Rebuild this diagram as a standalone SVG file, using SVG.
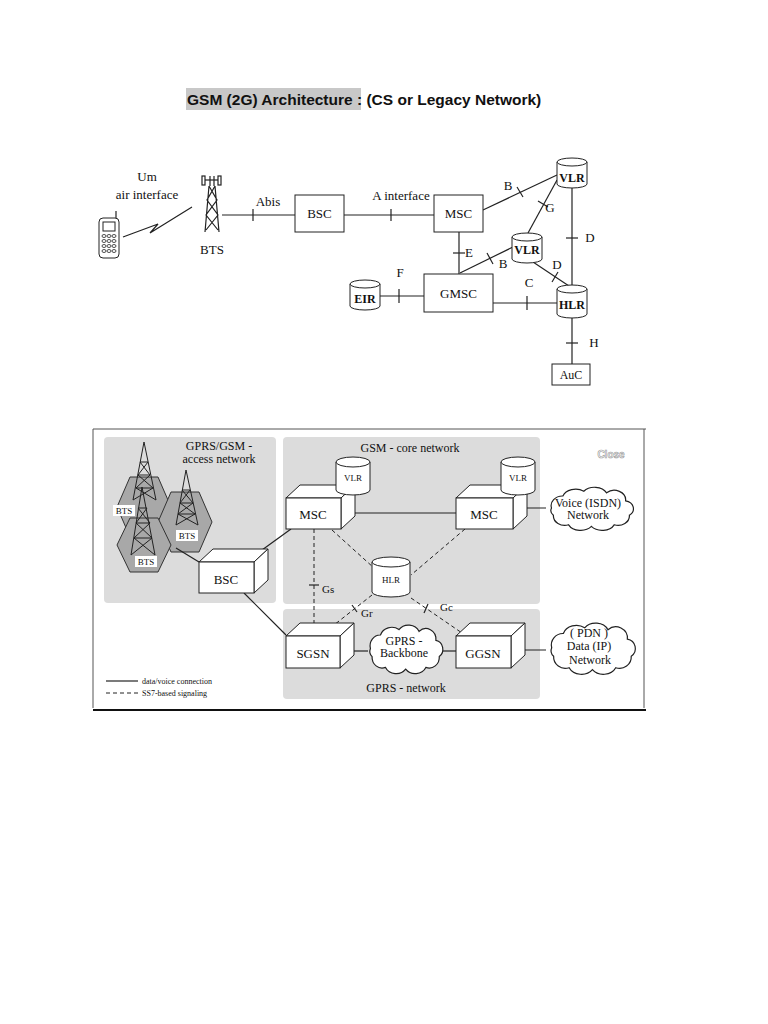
<svg xmlns="http://www.w3.org/2000/svg" xmlns:xlink="http://www.w3.org/1999/xlink" width="768" height="1024" viewBox="0 0 768 1024">
<style>
.t{font-family:"Liberation Serif",serif;fill:#111}
.l{stroke:#222;stroke-width:1.2;fill:none}
.d{stroke:#222;stroke-width:1;fill:none;stroke-dasharray:4,3}
.box{fill:#fff;stroke:#222;stroke-width:1}
.pan{fill:#dcdcdc}
.cl{fill:#fff;stroke:#222;stroke-width:1.2}
</style>
<defs>
<path id="cloud" d="M10,25 a12,12 0 0 1 12,-15 a14,12 0 0 1 22,-6 a14,12 0 0 1 24,2 a12,12 0 0 1 20,10 a10,10 0 0 1 4,18 a12,12 0 0 1 -16,12 a14,12 0 0 1 -24,2 a14,12 0 0 1 -24,-2 a12,12 0 0 1 -16,-12 a8,8 0 0 1 -2,-9 Z" vector-effect="non-scaling-stroke"/>
</defs>
<rect width="768" height="1024" fill="#fff"/>
<rect x="186" y="88" width="175" height="22" fill="#c8c8c8"/>
<text x="187" y="105" font-family="Liberation Sans,sans-serif" font-weight="bold" font-size="15.5" fill="#111">GSM (2G) Architecture : (CS or Legacy Network)</text>

<g id="top-connectors">
<path class="l" d="M123,237 L158,224 L150,233 L192,207"/>
<line class="l" x1="222" y1="215" x2="295" y2="215"/><line class="l" x1="253" y1="209" x2="253" y2="221"/>
<line class="l" x1="344" y1="215" x2="434" y2="215"/><line class="l" x1="391" y1="209" x2="391" y2="221"/>
<line class="l" x1="483" y1="210" x2="557" y2="175"/><line class="l" x1="517" y1="187" x2="523" y2="197"/>
<line class="l" x1="557" y1="180" x2="528" y2="233"/><line class="l" x1="538" y1="201" x2="548" y2="207"/>
<line class="l" x1="572" y1="188" x2="572" y2="287"/><line class="l" x1="566" y1="238" x2="578" y2="238"/>
<line class="l" x1="459" y1="232" x2="459" y2="274"/><line class="l" x1="453" y1="253" x2="465" y2="253"/>
<line class="l" x1="460" y1="273" x2="513" y2="247"/><line class="l" x1="487" y1="253" x2="493" y2="264"/>
<line class="l" x1="380" y1="296" x2="424" y2="296"/><line class="l" x1="399" y1="289" x2="399" y2="303"/>
<line class="l" x1="493" y1="303" x2="557" y2="303"/><line class="l" x1="527" y1="296" x2="527" y2="310"/>
<line class="l" x1="530" y1="260" x2="572" y2="288"/><line class="l" x1="558" y1="272" x2="552" y2="282"/>
<line class="l" x1="572" y1="318" x2="572" y2="364"/><line class="l" x1="566" y1="343" x2="578" y2="343"/>
</g>
<g class="t" font-size="13" text-anchor="middle">
<text x="147" y="181">Um</text><text x="147" y="199">air interface</text>
<text x="212" y="254">BTS</text>
<text x="268" y="206">Abis</text>
<text x="401" y="200">A interface</text>
<text x="508" y="190">B</text><text x="550" y="212">G</text><text x="590" y="242">D</text>
<text x="469" y="257">E</text><text x="503" y="268">B</text><text x="557" y="269">D</text>
<text x="400" y="277">F</text><text x="529" y="287">C</text><text x="594" y="347">H</text>
</g>

<g id="phone">
<rect x="99" y="218" width="20" height="40" rx="4" class="box" stroke-width="1.2"/>
<line class="l" x1="116" y1="211" x2="116" y2="218" stroke-width="2"/>
<rect x="103" y="222" width="12" height="9" class="box"/>
<g fill="none" stroke="#222" stroke-width="0.8">
<ellipse cx="104" cy="236" rx="2" ry="1.5"/><ellipse cx="109" cy="236" rx="2" ry="1.5"/><ellipse cx="114" cy="236" rx="2" ry="1.5"/>
<ellipse cx="104" cy="241" rx="2" ry="1.5"/><ellipse cx="109" cy="241" rx="2" ry="1.5"/><ellipse cx="114" cy="241" rx="2" ry="1.5"/>
<ellipse cx="104" cy="246" rx="2" ry="1.5"/><ellipse cx="109" cy="246" rx="2" ry="1.5"/><ellipse cx="114" cy="246" rx="2" ry="1.5"/>
<ellipse cx="104" cy="251" rx="2" ry="1.5"/><ellipse cx="109" cy="251" rx="2" ry="1.5"/><ellipse cx="114" cy="251" rx="2" ry="1.5"/>
</g>
</g>
<g id="bts" fill="none" stroke="#222" stroke-width="1.2">
<rect x="202" y="176" width="3" height="9"/><rect x="218" y="176" width="3" height="9"/>
<line x1="205" y1="180" x2="218" y2="180"/>
<line x1="210" y1="176" x2="210" y2="186"/><line x1="214" y1="176" x2="214" y2="186"/>
<path d="M209,186 L205,232 M215,186 L219,232 M209,186 L217,200 L206,215 L218,230 M215,186 L207,200 L218,215 L206,230"/>
</g>
<g id="bsc"><rect x="295" y="195" width="49" height="37" class="box"/><text class="t" x="319.5" y="218" font-size="13" text-anchor="middle">BSC</text></g>
<g id="msc"><rect x="434" y="195" width="49" height="37" class="box"/><text class="t" x="458.5" y="218" font-size="13" text-anchor="middle">MSC</text></g>
<g id="gmsc"><rect x="424" y="274" width="69" height="38" class="box"/><text class="t" x="458.5" y="298" font-size="13" text-anchor="middle">GMSC</text></g>
<g id="auc"><rect x="552" y="364" width="38" height="21" class="box"/><text class="t" x="571" y="379" font-size="12" text-anchor="middle">AuC</text></g>
<g id="vlr1"><path class="box" stroke-width="1.2" d="M557,162 v22 a15,4 0 0 0 30,0 v-22"/><ellipse class="box" stroke-width="1.2" cx="572" cy="162" rx="15" ry="4"/><text class="t" x="572" y="182" font-size="12" font-weight="bold" text-anchor="middle">VLR</text></g>
<g id="vlr2"><path class="box" stroke-width="1.2" d="M512,237 v22 a15,4 0 0 0 30,0 v-22"/><ellipse class="box" stroke-width="1.2" cx="527" cy="237" rx="15" ry="4"/><text class="t" x="527" y="254" font-size="12" font-weight="bold" text-anchor="middle">VLR</text></g>
<g id="hlr"><path class="box" stroke-width="1.2" d="M557,289 v25 a15,4 0 0 0 30,0 v-25"/><ellipse class="box" stroke-width="1.2" cx="572" cy="289" rx="15" ry="4"/><text class="t" x="572" y="309" font-size="12" font-weight="bold" text-anchor="middle">HLR</text></g>
<g id="eir"><path class="box" stroke-width="1.2" d="M350,284 v22 a15,4 0 0 0 30,0 v-22"/><ellipse class="box" stroke-width="1.2" cx="365" cy="284" rx="15" ry="4"/><text class="t" x="365" y="303" font-size="12" font-weight="bold" text-anchor="middle">EIR</text></g>

<line x1="93" y1="429" x2="646" y2="429" stroke="#555" stroke-width="1"/>
<line x1="93" y1="429" x2="93" y2="708" stroke="#555" stroke-width="1"/>
<line x1="644" y1="429" x2="644" y2="708" stroke="#555" stroke-width="1"/>
<line x1="93" y1="710" x2="646" y2="710" stroke="#111" stroke-width="2"/>
<rect class="pan" x="104" y="437" width="172" height="166" rx="4"/>
<rect class="pan" x="283" y="437" width="257" height="167" rx="4"/>
<rect class="pan" x="283" y="609" width="257" height="90" rx="4"/>
<g class="t" font-size="12" text-anchor="middle">
<text x="219" y="450">GPRS/GSM -</text><text x="219" y="463">access network</text>
<text x="410" y="452">GSM - core network</text>
<text x="406" y="692">GPRS - network</text>
</g>
<text x="611" y="458" font-family="Liberation Sans,sans-serif" font-size="10" font-weight="bold" fill="#fff" stroke="#999" stroke-width="0.6" text-anchor="middle">Close</text>

<g id="hexes" fill="#a8a8a8" stroke="#333" stroke-width="1">
<polygon points="117,507 130,477 158,477 171,507 158,537 130,537"/>
<polygon points="158,522 171,492 199,492 212,522 199,552 171,552"/>
<polygon points="117,545 130,518 158,518 171,545 158,572 130,572"/>
</g>
<g id="towers" fill="none" stroke="#222" stroke-width="1">
<path d="M144,442 L133,500 M144,442 L156,500 M140,462 L148,462 M138,475 L150,475 M136,488 L153,488 M140,462 L150,475 L136,488 L156,500 M148,462 L138,475 L153,488 L133,500"/>
<path d="M186,470 L176,525 M186,470 L198,525 M182,490 L190,490 M180,503 L193,503 M178,514 L195,514 M182,490 L193,503 L178,514 L198,525 M190,490 L180,503 L195,514 L176,525"/>
<path d="M142,487 L131,555 M142,487 L155,555 M138,508 L147,508 M136,523 L150,523 M134,538 L152,538 M138,508 L150,523 L134,538 L155,555 M147,508 L136,523 L152,538 L131,555"/>
</g>
<g font-family="Liberation Serif,serif" font-size="9" text-anchor="middle" fill="#111">
<rect x="113" y="505" width="22" height="11" fill="#fff"/><text x="124" y="514">BTS</text>
<rect x="176" y="530" width="22" height="11" fill="#fff"/><text x="187" y="539">BTS</text>
<rect x="135" y="556" width="22" height="11" fill="#fff"/><text x="146" y="565">BTS</text>
</g>

<g id="bottom-connectors">
<line class="l" x1="341" y1="513" x2="456" y2="513"/>
<line class="l" x1="513" y1="508" x2="546" y2="508"/>
<line class="l" x1="511" y1="650" x2="546" y2="650"/>
<line class="l" x1="340" y1="651" x2="368" y2="651"/>
<line class="l" x1="442" y1="651" x2="456" y2="651"/>
<line class="l" x1="262" y1="550" x2="291" y2="529"/>
<line class="l" x1="176" y1="548" x2="199" y2="562"/>
<line class="l" x1="244" y1="593" x2="286" y2="635"/>
<line class="d" x1="314" y1="529" x2="314" y2="625"/><line class="l" x1="309" y1="585" x2="319" y2="585"/>
<line class="d" x1="332" y1="530" x2="374" y2="568"/>
<line class="d" x1="465" y1="529" x2="411" y2="575"/>
<line class="d" x1="372" y1="595" x2="334" y2="625"/><line class="l" x1="352" y1="605" x2="357" y2="612"/>
<line class="d" x1="411" y1="598" x2="462" y2="633"/><line class="l" x1="428" y1="604" x2="424" y2="613"/>
<line class="l" x1="106" y1="681" x2="138" y2="681" stroke-width="1"/>
<line class="d" x1="106" y1="693" x2="138" y2="693"/>
</g>
<g class="t" font-size="11">
<text x="322" y="593">Gs</text><text x="361" y="617">Gr</text><text x="440" y="611">Gc</text>
</g>
<g class="t" font-size="8"><text x="142" y="684">data/voice connection</text><text x="142" y="696">SS7-based signaling</text></g>

<g id="b-msc1"><path class="box" d="M286,498 l14,-13 h55 l-14,13 Z"/><path class="box" d="M341,498 l14,-13 v31 l-14,13 Z"/><rect class="box" x="286" y="498" width="55" height="31"/><text class="t" x="313" y="519" font-size="13" text-anchor="middle">MSC</text></g>
<g id="b-msc2"><path class="box" d="M456,498 l14,-13 h57 l-14,13 Z"/><path class="box" d="M513,498 l14,-13 v31 l-14,13 Z"/><rect class="box" x="456" y="498" width="57" height="31"/><text class="t" x="484" y="519" font-size="13" text-anchor="middle">MSC</text></g>
<g id="b-bsc"><path class="box" d="M199,562 l14,-13 h55 l-14,13 Z"/><path class="box" d="M254,562 l14,-13 v31 l-14,13 Z"/><rect class="box" x="199" y="562" width="55" height="31"/><text class="t" x="226" y="584" font-size="13" text-anchor="middle">BSC</text></g>
<g id="b-sgsn"><path class="box" d="M286,636 l14,-13 h54 l-14,13 Z"/><path class="box" d="M340,636 l14,-13 v32 l-14,13 Z"/><rect class="box" x="286" y="636" width="54" height="32"/><text class="t" x="313" y="658" font-size="13" text-anchor="middle">SGSN</text></g>
<g id="b-ggsn"><path class="box" d="M456,636 l14,-13 h55 l-14,13 Z"/><path class="box" d="M511,636 l14,-13 v32 l-14,13 Z"/><rect class="box" x="456" y="636" width="55" height="32"/><text class="t" x="483" y="658" font-size="13" text-anchor="middle">GGSN</text></g>
<g id="b-vlr1"><path class="box" d="M336,462 v28 a17,5 0 0 0 34,0 v-28"/><ellipse class="box" cx="353" cy="462" rx="17" ry="5"/><text class="t" x="353" y="481" font-size="9" text-anchor="middle">VLR</text></g>
<g id="b-vlr2"><path class="box" d="M501,462 v28 a17,5 0 0 0 34,0 v-28"/><ellipse class="box" cx="518" cy="462" rx="17" ry="5"/><text class="t" x="518" y="481" font-size="9" text-anchor="middle">VLR</text></g>
<g id="b-hlr"><path class="box" d="M372,562 v30 a19,5 0 0 0 38,0 v-30"/><ellipse class="box" cx="391" cy="562" rx="19" ry="5"/><text class="t" x="391" y="583" font-size="9" text-anchor="middle">HLR</text></g>
<g id="cloud-isdn"><use href="#cloud" class="cl" transform="translate(542,488) scale(0.95,0.8)"/><g class="t" font-size="12" text-anchor="middle"><text x="588" y="507">Voice (ISDN)</text><text x="588" y="519">Network</text></g></g>
<g id="cloud-pdn"><use href="#cloud" class="cl" transform="translate(542,624) scale(0.97,0.95)"/><g class="t" font-size="12" text-anchor="middle"><text x="589" y="637">( PDN )</text><text x="589" y="650">Data (IP)</text><text x="590" y="664">Network</text></g></g>
<g id="cloud-gprs"><use href="#cloud" class="cl" transform="translate(362,626) scale(0.84,0.9)"/><g class="t" font-size="12" text-anchor="middle"><text x="404" y="645">GPRS -</text><text x="404" y="657">Backbone</text></g></g>
</svg>
